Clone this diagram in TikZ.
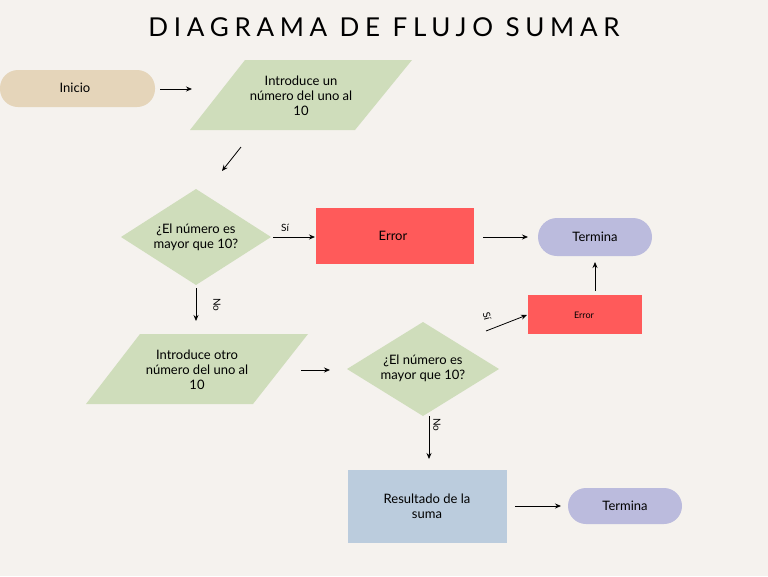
\documentclass[tikz,border=0pt]{standalone}
\usepackage{fontspec}
\setmainfont{Lato}
\newfontfamily\titlefont[LetterSpace=22]{Lato}
\usetikzlibrary{shapes.geometric,arrows.meta}
\definecolor{bg}{HTML}{F5F2EE}
\definecolor{beige}{HTML}{E5D5BA}
\definecolor{verde}{HTML}{CFDDBB}
\definecolor{rojo}{HTML}{FF5A5A}
\definecolor{lila}{HTML}{BBBBDD}
\definecolor{azul}{HTML}{BBCCDD}
\begin{document}
\begin{tikzpicture}[x=1pt,y=-1pt,
  lbl/.style={font=\fontsize{13}{15}\selectfont, align=center, text=black},
  arr/.style={-{Stealth[length=6pt,width=5pt]}, line width=0.8pt},
  small/.style={font=\fontsize{10}{12}\selectfont}]
\fill[bg] (0,0) rectangle (768,576);
\node[font=\titlefont\fontsize{26}{30}\selectfont] (title) at (384,27) {DIAGRAMA DE FLUJO SUMAR};
% Inicio
\fill[beige, rounded corners=18pt] (0,70) rectangle (155,107);
\node[lbl] (ini) at (75,88) {Inicio};
% parallelogram 1
\fill[verde] (245,60) -- (412,60) -- (355,130) -- (190,130) -- cycle;
\node[lbl] (p1) at (301,96) {Introduce un\\número del uno al\\10};
% diamond 1
\fill[verde] (121,237) -- (196,189) -- (271,237) -- (196,285) -- cycle;
\node[lbl] (d1) at (196,237) {¿El número es\\mayor que 10?};
% Error
\fill[rojo] (316,208) rectangle (474,264);
\node[lbl] (e1) at (393,236) {Error};
% Termina 1
\fill[lila, rounded corners=19pt] (538,218) rectangle (652,256);
\node[lbl] (t1) at (595,237) {Termina};
% parallelogram 2
\fill[verde] (140,334) -- (308,334) -- (253,404) -- (86,404) -- cycle;
\node[lbl] (p2) at (197,370) {Introduce otro\\número del uno al\\10};
% diamond 2
\fill[verde] (347,369) -- (423,322) -- (499,369) -- (423,416) -- cycle;
\node[lbl] (d2) at (423,368) {¿El número es\\mayor que 10?};
% small error
\fill[rojo] (528,295) rectangle (642,334);
\node[font=\fontsize{9}{11}\selectfont] (e2) at (584,315) {Error};
% Resultado
\fill[azul] (348,470) rectangle (507,543);
\node[lbl] (res) at (427,506) {Resultado de la\\suma};
% Termina 2
\fill[lila, rounded corners=18pt] (568,488) rectangle (682,524);
\node[lbl] (t2) at (625,506) {Termina};
% arrows
\coordinate (a1) at (160,89); \coordinate (b1) at (192,89);
\draw[arr] (a1) -- (b1);
\coordinate (a2) at (241,147); \coordinate (b2) at (222,171);
\draw[arr] (a2) -- (b2);
\coordinate (a3) at (273,237); \coordinate (b3) at (315,237);
\draw[arr] (a3) -- (b3);
\node[small] (si1) at (285,228) {Sí};
\coordinate (a4) at (483,237); \coordinate (b4) at (528,237);
\draw[arr] (a4) -- (b4);
\coordinate (a5) at (196,288); \coordinate (b5) at (196,321);
\draw[arr] (a5) -- (b5);
\node[small, rotate=-90] (no1) at (217,305) {No};
\coordinate (a6) at (301,370); \coordinate (b6) at (330,370);
\draw[arr] (a6) -- (b6);
\coordinate (a7) at (486,331); \coordinate (b7) at (527,315);
\draw[arr] (a7) -- (b7);
\node[small, rotate=-75, inner sep=0.5pt] (si2) at (487,316) {Sí};
\coordinate (a8) at (595,291); \coordinate (b8) at (595,262);
\draw[arr] (a8) -- (b8);
\coordinate (a9) at (429,416); \coordinate (b9) at (429,459);
\draw[arr] (a9) -- (b9);
\node[small, rotate=-90] (no2) at (437,425) {No};
\coordinate (a10) at (515,506); \coordinate (b10) at (561,506);
\draw[arr] (a10) -- (b10);
\end{tikzpicture}
\end{document}
